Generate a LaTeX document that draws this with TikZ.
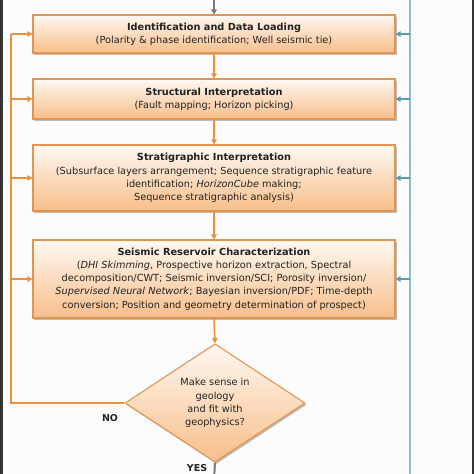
\documentclass[tikz,border=0pt]{standalone}
\usepackage{fontspec}
\setmainfont{DejaVu Sans}
\usetikzlibrary{arrows.meta,shapes.geometric,shadows}
\definecolor{boxline}{HTML}{E29550}
\definecolor{boxtop}{HTML}{FEF8F2}
\definecolor{boxbot}{HTML}{F8BE8A}
\definecolor{orline}{HTML}{E8913F}
\definecolor{blline}{HTML}{8DBCCD}
\definecolor{bltip}{HTML}{5A9DB0}
\definecolor{gyline}{HTML}{7A7A7A}
\definecolor{txt}{HTML}{222222}
\begin{document}
\begin{tikzpicture}[x=1bp,y=-1bp,
  font=\fontsize{9.8}{13.3}\selectfont, text=txt,
  procbox/.style={draw=boxline, line width=1.1bp, top color=boxtop, bottom color=boxbot,
    minimum width=362bp, align=center, inner sep=0pt,
    drop shadow={shadow xshift=1.5bp, shadow yshift=-1.8bp, fill=black, opacity=0.25}},
  decbox/.style={draw=boxline, line width=1.1bp, top color=boxtop, bottom color=boxbot,
    shape=diamond, minimum width=180bp, minimum height=116bp, align=center, inner sep=0pt,
    drop shadow={shadow xshift=1.5bp, shadow yshift=-1.8bp, fill=black, opacity=0.25}},
  tipo/.style={-{Triangle[length=5bp,width=5.5bp]}},
  orarrow/.style={draw=orline, line width=1.6bp, tipo},
  lorarrow/.style={draw=orline, line width=1.4bp, tipo},
  blarrow/.style={draw=bltip, line width=1.2bp, tipo},
  gyarrow/.style={draw=gyline, line width=2bp, tipo},
  lbl/.style={font=\fontsize{9.5}{10}\selectfont\bfseries}
]
\useasboundingbox (0,0) rectangle (474,474);
\fill[white!99!black] (0,0) rectangle (474,474);
\fill[black!80] (0,0) rectangle (3,474);
\fill[black!80] (472,0) rectangle (474,474);

\coordinate (top) at (214,0);
\coordinate (bot) at (214,480);
\coordinate (lx) at (11,0);
\coordinate (rtop) at (410,0);
\coordinate (rbot) at (410,474);

\node[procbox, minimum height=38bp] (b1) at (214,34)
  {\textbf{Identification and Data Loading}\\(Polarity \& phase identification; Well seismic tie)};
\node[procbox, minimum height=40bp] (b2) at (214,99)
  {\textbf{Structural Interpretation}\\(Fault mapping; Horizon picking)};
\node[procbox, minimum height=66bp] (b3) at (214,178)
  {\textbf{Stratigraphic Interpretation}\\(Subsurface layers arrangement; Sequence stratigraphic feature\\identification; \textit{HorizonCube} making;\\Sequence stratigraphic analysis)};
\node[procbox, minimum height=78bp] (b4) at (214,279)
  {\textbf{Seismic Reservoir Characterization}\\(\textit{DHI Skimming}, Prospective horizon extraction, Spectral\\decomposition/CWT; Seismic inversion/SCI; Porosity inversion/\\\textit{Supervised Neural Network}; Bayesian inversion/PDF; Time-depth\\conversion; Position and geometry determination of prospect)};
\node[decbox] (d) at (215,403)
  {Make sense in\\geology\\and fit with\\geophysics?};

% main flow
\draw[gyarrow] (top) -- (b1.north);
\draw[orarrow] (b1.south) -- (b2.north);
\draw[orarrow] (b2.south) -- (b3.north);
\draw[orarrow] (b3.south) -- (b4.north);
\draw[orarrow] (b4.south) -- (d.north);
\draw[draw=gyline, line width=2bp] (d.south) -- (bot);

% left feedback loop
\draw[draw=orline, line width=1.4bp] (d.west) -- (lx|-d.west) -- (lx|-b1.west);
\draw[lorarrow] (lx|-b1.west) -- (b1.west);
\draw[lorarrow] (lx|-b2.west) -- (b2.west);
\draw[lorarrow] (lx|-b3.west) -- (b3.west);
\draw[lorarrow] (lx|-b4.west) -- (b4.west);

% right line
\draw[draw=blline, line width=1.2bp] (rtop) -- (rbot);
\draw[blarrow] (rtop|-b1.east) -- (b1.east);
\draw[blarrow] (rtop|-b2.east) -- (b2.east);
\draw[blarrow] (rtop|-b3.east) -- (b3.east);
\draw[blarrow] (rtop|-b4.east) -- (b4.east);

\node[lbl] (no) at (110,418) {NO};
\node[lbl] (yes) at (197,468) {YES};
\end{tikzpicture}
\end{document}
